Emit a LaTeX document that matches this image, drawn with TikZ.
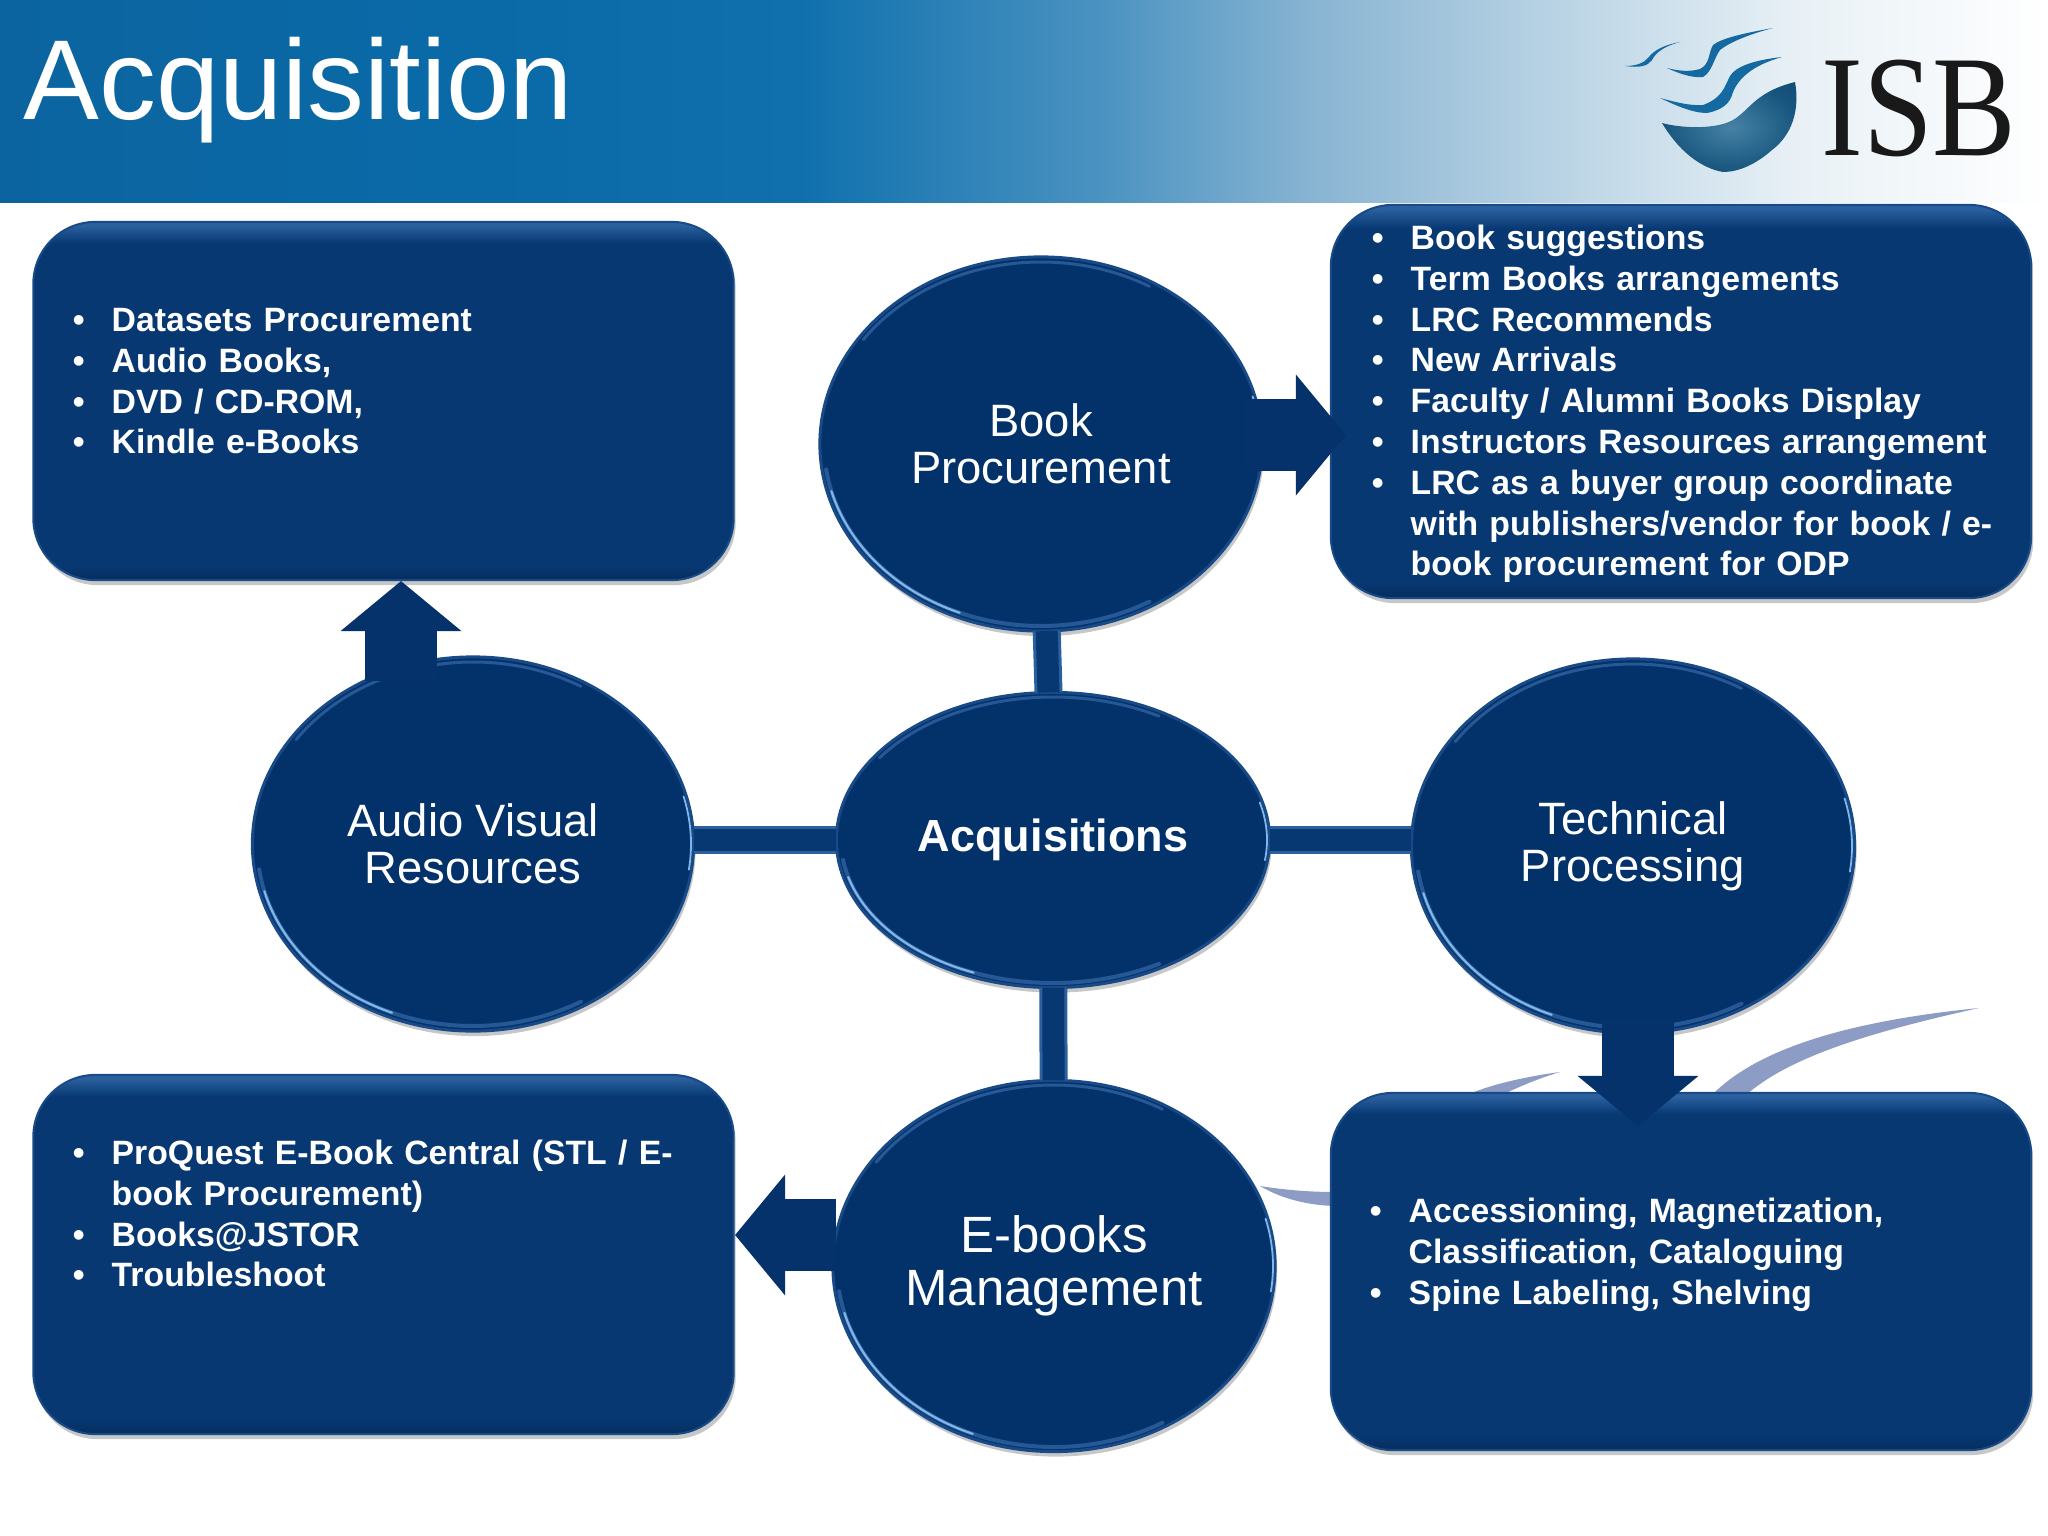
\documentclass[tikz,border=0pt]{standalone}
\usepackage{fontspec}
\setmainfont{Liberation Sans}
\newfontfamily\logofont{Liberation Serif}
\usetikzlibrary{shapes.geometric,arrows.meta,shadows}
\definecolor{discblue}{RGB}{3,50,107}
\definecolor{boxblue}{RGB}{7,56,114}
\definecolor{boxrim}{RGB}{42,96,158}
\definecolor{arrowblue}{RGB}{5,50,106}
\definecolor{rimblue}{RGB}{24,74,136}
\definecolor{rimlight}{RGB}{128,182,232}
\definecolor{rimtop}{RGB}{38,88,150}
\definecolor{swoosh}{RGB}{141,156,196}
\definecolor{birdblue}{RGB}{20,105,160}
\definecolor{headA}{HTML}{0B649F}
\definecolor{headB}{HTML}{0A6AA8}
\definecolor{headC}{HTML}{0F70AD}
\definecolor{headD}{HTML}{4B93C1}
\definecolor{headE}{HTML}{88B4D2}
\definecolor{headF}{HTML}{B9D3E4}
\definecolor{headG}{HTML}{E9F1F6}
\definecolor{globeA}{RGB}{70,130,165}
\definecolor{globeB}{RGB}{22,84,125}
\definecolor{globeC}{RGB}{14,62,105}
\pgfdeclarehorizontalshading{headshade}{100bp}{color(0bp)=(headA);
  color(25bp)=(headA);
  color(37bp)=(headB);
  color(44.5bp)=(headC);
  color(52bp)=(headD);
  color(57bp)=(headE);
  color(63bp)=(headF);
  color(69bp)=(headG);
  color(75bp)=(white);
  color(100bp)=(white)}
\pgfdeclareverticalshading{boxshade}{100bp}{color(0bp)=(boxblue!80!black);
  color(25bp)=(boxblue!80!black);
  color(27bp)=(boxblue);
  color(72bp)=(boxblue);
  color(74.5bp)=(boxrim);
  color(75bp)=(boxrim);
  color(100bp)=(boxrim)}
\pgfdeclareradialshading{globeshade}{\pgfpoint{0bp}{0bp}}{color(0bp)=(globeA);
  color(25bp)=(globeB);
  color(50bp)=(globeC)}
\newenvironment{blist}{\list{\textbullet}{\setlength\leftmargin{.33cm}\setlength\labelwidth{.2cm}%
  \setlength\labelsep{.27cm}\setlength\itemsep{0pt}\setlength\parsep{0pt}\setlength\topsep{0pt}%
  \setlength\partopsep{0pt}}}{\endlist}
\tikzset{
  disc/.style={ellipse,draw=rimblue,line width=.03cm,fill=discblue,inner sep=0pt,outer sep=0pt,
    text=white,align=center,
    general shadow={fill=black,opacity=.22,shadow xshift=.02cm,shadow yshift=-.05cm}},
  infobox/.style={rectangle,rounded corners=.62cm,draw=rimblue,line width=.02cm,shading=boxshade,
    inner sep=0pt,outer sep=0pt,minimum width=7cm,
    general shadow={fill=black,opacity=.22,shadow xshift=.02cm,shadow yshift=-.05cm}},
  infotext/.style={anchor=north west,text=white,inner sep=0pt,text width=7cm,
    font=\fontsize{9.6}{11.6}\selectfont\bfseries},
  link/.style={draw=boxrim,double=boxblue,line width=.03cm,double distance=.22cm},
  blockarrow/.style={draw=arrowblue,line width=.71cm,-{Triangle[length=.5cm,width=1.18cm]}}
}
\begin{document}
\begin{tikzpicture}[x=.01cm,y=-.01cm]
\useasboundingbox (0,0) rectangle (2048,1536);
% header band
\shade[shading=headshade] (0,0) rectangle (2048,202);
\node[anchor=west,text=white,inner sep=0pt,font=\fontsize{32.3}{36}\selectfont] (title) at (23,90) {Acquisition};
% logo
\fill[birdblue] (1625,66) .. controls (1640,68) and (1648,66) .. (1652,60) .. controls (1656,52) and (1665,46) .. (1680,42) .. controls (1664,45) and (1654,50) .. (1648,58) .. controls (1644,63) and (1636,66) .. (1625,66);
\fill[birdblue] (1667,68) .. controls (1680,74) and (1692,78) .. (1703,77) .. controls (1712,72) and (1714,58) .. (1720,50) .. controls (1730,42) and (1750,34) .. (1773,28) .. controls (1745,33) and (1722,38) .. (1713,45) .. controls (1708,54) and (1710,64) .. (1700,69) .. controls (1690,72) and (1678,71) .. (1667,68);
\fill[birdblue] (1660,98) .. controls (1675,105) and (1692,113) .. (1707,113) .. controls (1722,110) and (1730,104) .. (1733,92) .. controls (1738,80) and (1750,66) .. (1782,57) .. controls (1755,60) and (1736,66) .. (1730,76) .. controls (1724,88) and (1722,98) .. (1703,105) .. controls (1690,106) and (1675,102) .. (1660,98);
\shade[shading=globeshade] (1795,82) .. controls (1800,110) and (1792,135) .. (1772,150) .. controls (1755,165) and (1738,172) .. (1723,172) .. controls (1700,168) and (1678,150) .. (1662,123) .. controls (1680,128) and (1715,130) .. (1733,120) .. controls (1750,110) and (1755,92) .. (1795,82);
\node[text=black!90,inner sep=0pt,font=\fontsize{41}{41}\logofont] (logotext) at (1919,108) {\scalebox{.87}[1]{ISB}};
% swoosh behind the boxes
\fill[swoosh] (1979,1008) .. controls (1860,1020) and (1760,1045) .. (1711,1096) -- (1745,1096) .. controls (1790,1055) and (1880,1030) .. (1979,1008);
\fill[swoosh] (1560,1072) .. controls (1530,1076) and (1490,1084) .. (1465,1096) -- (1500,1096) .. controls (1520,1086) and (1540,1078) .. (1560,1072);
\fill[swoosh] (1260,1186) .. controls (1285,1190) and (1310,1192) .. (1335,1192) -- (1335,1206) .. controls (1300,1205) and (1275,1195) .. (1260,1186);
% boxes
\node[infobox,minimum height=3.58cm] (avbox) at (383.5,401) {};
\node[infobox,minimum height=3.93cm] (bookbox) at (1681,401.5) {};
\node[infobox,minimum height=3.59cm] (ebookbox) at (383.5,1254.5) {};
\node[infobox,minimum height=3.57cm] (techbox) at (1681,1271.5) {};
% discs
\node[disc,minimum width=4.42cm,minimum height=3.74cm,font=\fontsize{12.9}{13.4}\selectfont] (book) at (1041,444) {Book\\Procurement};
\node[disc,minimum width=4.33cm,minimum height=2.95cm,font=\fontsize{12.8}{14}\selectfont\bfseries] (acq) at (1053,840) {Acquisitions};
\node[disc,minimum width=4.41cm,minimum height=3.74cm,font=\fontsize{12.9}{13.4}\selectfont] (audio) at (473,844) {Audio Visual\\Resources};
\node[disc,minimum width=4.43cm,minimum height=3.74cm,font=\fontsize{12.9}{13.4}\selectfont] (tech) at (1633,846) {Technical\\Processing};
\node[disc,minimum width=4.42cm,minimum height=3.71cm,font=\fontsize{14.5}{15.2}\selectfont] (ebooks) at (1054,1266) {E-books\\Management};
% rim highlights
\foreach \nm/\rx/\ry in {book/221/186,acq/216/147,audio/220/186,tech/221/186,ebooks/221/185}{
  \draw[rimtop,line width=.03cm,line cap=round] (\nm.center) ++(215:{\rx-4} and {\ry-4}) arc[start angle=215,end angle=300,x radius=\rx-4,y radius=\ry-4];
  \draw[rimtop,line width=.04cm,line cap=round] (\nm.center) ++(60:{\rx-4} and {\ry-4}) arc[start angle=60,end angle=172,x radius=\rx-4,y radius=\ry-4];
  \draw[rimlight,line width=.022cm,line cap=round] (\nm.center) ++(112:{\rx-4} and {\ry-4}) arc[start angle=112,end angle=165,x radius=\rx-4,y radius=\ry-4];
  \draw[rimlight,line width=.018cm,line cap=round] (\nm.center) ++(-15:{\rx-2} and {\ry-2}) arc[start angle=-15,end angle=8,x radius=\rx-2,y radius=\ry-2];
}
% links
\draw[link] (book) -- (acq);
\draw[link] (acq) -- (ebooks);
\draw[link] (audio.east |- acq.west) -- (acq.west);
\draw[link] (acq.east) -- (tech.west |- acq.east);
% block arrows
\coordinate (booktip) at (1346,435);
\coordinate (avtip) at (401,581);
\coordinate (techtip) at (1638,1126);
\coordinate (ebooktip) at (735,1235);
\draw[blockarrow,shorten <=-.16cm] (book.east |- booktip) -- (booktip);
\draw[blockarrow,shorten <=-.24cm] (audio.north -| avtip) -- (avtip);
\draw[blockarrow,shorten <=-.14cm] (tech.south -| techtip) -- (techtip);
\draw[blockarrow,shorten <=-.03cm] (ebooks.west |- ebooktip) -- (ebooktip);
% box texts
\node[infotext] (avtext) at (78,290) {\begin{blist}
\item Datasets Procurement
\item Audio Books,
\item DVD / CD-ROM,
\item Kindle e-Books
\end{blist}};
\node[infotext] (booktext) at (1377,208) {\begin{blist}
\item Book suggestions
\item Term Books arrangements
\item LRC Recommends
\item New Arrivals
\item Faculty / Alumni Books Display
\item Instructors Resources arrangement
\item LRC as a buyer group coordinate\\with publishers/vendor for book / e-\\book procurement for ODP
\end{blist}};
\node[infotext] (ebooktext) at (78,1123) {\begin{blist}
\item ProQuest E-Book Central (STL / E-\\book Procurement)
\item Books@JSTOR
\item Troubleshoot
\end{blist}};
\node[infotext] (techtext) at (1375,1181) {\begin{blist}
\item Accessioning, Magnetization,\\Classification, Cataloguing
\item Spine Labeling, Shelving
\end{blist}};
\end{tikzpicture}
\end{document}
